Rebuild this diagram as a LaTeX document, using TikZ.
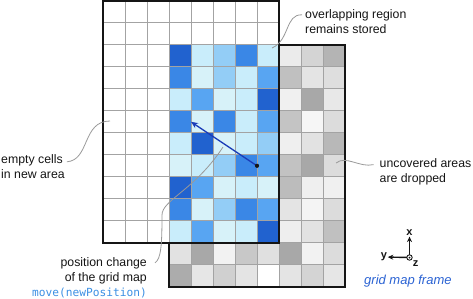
\documentclass[tikz,border=0pt]{standalone}
\usepackage{fontspec}
\setmainfont{Liberation Sans}
\newfontfamily\codefont{DejaVu Sans Mono}
\usetikzlibrary{arrows.meta}
\definecolor{cD}{HTML}{2162CF}
\definecolor{cM}{HTML}{3A87E6}
\definecolor{cL}{HTML}{58A5F2}
\definecolor{cP}{HTML}{93CDF6}
\definecolor{cV}{HTML}{C9EDFB}
\definecolor{cW}{HTML}{D7F2F9}
\definecolor{gridgray}{HTML}{A3A3A3}
\definecolor{leadergray}{HTML}{999999}
\definecolor{movecol}{HTML}{1B3DB8}
\definecolor{codeblue}{HTML}{3B8FE3}
\definecolor{framelabel}{HTML}{2B63D3}
\definecolor{ink}{HTML}{151515}
\begin{document}
\begin{tikzpicture}[x=1pt,y=-1pt,
  gridline/.style={draw=gridgray,line width=0.9pt},
  frameline/.style={draw=ink,line width=1.4pt},
  leader/.style={draw=leadergray,line width=0.8pt},
  txt/.style={font=\fontsize{12.3}{15}\selectfont,text=ink,inner sep=0pt},
  codetxt/.style={font=\codefont\fontsize{11.2}{14}\selectfont,text=codeblue,inner sep=0pt},
  movearrow/.style={draw=movecol,line width=1.3pt,-{Stealth[length=7pt,width=6pt]}},
  axarrow/.style={draw=ink,line width=1.4pt,-{Stealth[length=5.5pt,width=5pt]}},
  axlabel/.style={font=\bfseries\fontsize{11}{13}\selectfont,text=ink,inner sep=0.5pt}]
\useasboundingbox (0,0) rectangle (473,298);

% ---------- old grid (gray, behind) ----------
\def\ox{169}\def\oy{44.8}
\foreach \row [count=\r from 0] in {{235,212,180},{192,228,222},{240,168,232},{196,246,220},{239,226,184},{194,168,220},{188,239,240},{228,244,220},{238,226,192}}{
  \foreach \v [count=\c from 5] in \row {
    \definecolor{tmpg}{RGB}{\v,\v,\v}
    \fill[tmpg] ({\ox+22*\c},{\oy+22*\r}) rectangle ++(22,22);
  }
}
\foreach \row [count=\r from 9] in {{226,168,242,200,224,168,242,220},{172,230,208,228,255,228,212,230}}{
  \foreach \v [count=\c from 0] in \row {
    \definecolor{tmpg}{RGB}{\v,\v,\v}
    \fill[tmpg] ({\ox+22*\c},{\oy+22*\r}) rectangle ++(22,22);
  }
}
\foreach \i in {1,...,7} \draw[gridline] ({\ox+22*\i},\oy) -- ({\ox+22*\i},{\oy+242});
\foreach \j in {1,...,10} \draw[gridline] (\ox,{\oy+22*\j}) -- ({\ox+176},{\oy+22*\j});
\draw[frameline] (\ox,\oy) rectangle ({\ox+176},{\oy+242});

% ---------- new grid (front) ----------
\def\nx{103}\def\ny{0.8}
\fill[white] (\nx,\ny) rectangle ({\nx+176},{\ny+242});
\foreach \row [count=\r from 2] in {{D,V,P,M,V},{M,W,P,V,L},{V,L,W,V,D},{M,W,M,V,L},{V,D,W,V,P},{W,V,P,M,L},{D,L,W,V,W},{M,W,P,M,L},{V,L,W,V,D}}{
  \foreach \k [count=\c from 3] in \row {
    \fill[fill=c\k] ({\nx+22*\c},{\ny+22*\r}) rectangle ++(22,22);
  }
}
\foreach \i in {1,...,7} \draw[gridline] ({\nx+22*\i},\ny) -- ({\nx+22*\i},{\ny+242});
\foreach \j in {1,...,10} \draw[gridline] (\nx,{\ny+22*\j}) -- ({\nx+176},{\ny+22*\j});
\draw[frameline] (\nx,\ny) rectangle ({\nx+176},{\ny+242});

% ---------- move arrow ----------
\coordinate (oc) at (257,165.8);
\coordinate (nc) at (191,121.8);
\draw[movearrow] (oc) -- (nc);
\fill[ink] (oc) circle (2.1pt);

% ---------- texts ----------
\node[txt,anchor=base west] (t1a) at (305,18) {overlapping region};
\node[txt,anchor=base west] (t1b) at (305,33) {remains stored};
\node[txt,anchor=base west] (t2a) at (1,163) {empty cells};
\node[txt,anchor=base west] (t2b) at (1,178) {in new area};
\node[txt,anchor=base west] (t3a) at (379.5,167) {uncovered areas};
\node[txt,anchor=base west] (t3b) at (379.5,182) {are dropped};
\node[txt,anchor=base east] (t4a) at (147,266) {position change};
\node[txt,anchor=base east] (t4b) at (147,281) {of the grid map};
\node[codetxt,anchor=base east] (t4c) at (147,296) {move(newPosition)};

% ---------- leaders ----------
\coordinate (e1) at (272,48);
\draw[leader] (e1) .. controls (290,40) and (285,14) .. ([xshift=-3pt]t1a.west);
\coordinate (e2) at (110,121);
\draw[leader] ([xshift=4pt,yshift=-2pt]t2a.east) .. controls (90,160) and (82,121) .. (e2);
\coordinate (e3) at (336,163);
\draw[leader] (e3) .. controls (346,155) and (360,168) .. ([xshift=-6pt,yshift=-2pt]t3a.west);
\coordinate (e4) at (223,147);
\coordinate (m4) at (162,215);
\draw[leader] ([xshift=8pt]t4a.east) .. controls (161,259) and (162,245) .. (m4)
  .. controls (162,200) and (195,190) .. (e4);

% ---------- axes ----------
\coordinate (ax) at (409.5,257.5);
\node[axlabel] (xl) at (409.5,233) {x};
\node[axlabel] (yl) at (384,257) {y};
\node[axlabel] (zl) at (415.5,264) {z};
\draw[axarrow,shorten <=2.7pt] (ax) -- (xl);
\draw[axarrow,shorten <=2.7pt] (ax) -- (yl);
\draw[ink,line width=0.9pt] (ax) circle (2.7pt);
\fill[ink] (ax) circle (1pt);
\node[font=\itshape\fontsize{13}{15}\selectfont,text=framelabel,inner sep=0pt,anchor=base west] (gmf) at (364,284) {grid map frame};
\end{tikzpicture}
\end{document}
